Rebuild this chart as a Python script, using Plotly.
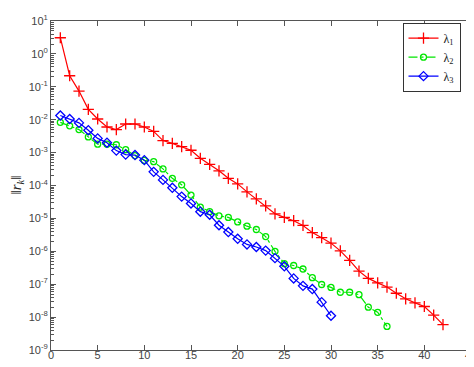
import plotly.graph_objects as go

iters_1 = list(range(1, 43))
lambda1 = [3.1, 0.217, 0.074, 0.0207, 0.0105, 0.006, 0.005, 0.0074, 0.0074, 0.006,
           0.0044, 0.00232, 0.0019, 0.00152, 0.00118, 0.00067, 4.4e-4, 2.8e-4, 1.65e-4, 1.12e-4,
           6.4e-5, 3.9e-5, 2.4e-5, 1.38e-5, 1.07e-5, 8.5e-6, 6.1e-6, 3.7e-6, 2.6e-6, 1.77e-6,
           1.03e-6, 5.3e-7, 2.5e-7, 1.5e-7, 1.1e-7, 8.2e-8, 5.3e-8, 3.6e-8, 2.7e-8, 2.1e-8,
           1.15e-8, 5.9e-9]

iters_2 = list(range(1, 37))
lambda2 = [8.3e-3, 6.5e-3, 5.0e-3, 3.0e-3, 1.8e-3, 1.8e-3, 1.73e-3, 1.23e-3, 8.1e-4, 5.8e-4,
           5.3e-4, 3.2e-4, 1.65e-4, 1.05e-4, 5.1e-5, 2.2e-5, 1.6e-5, 1.2e-5, 1.07e-5, 7.8e-6,
           5.8e-6, 4.6e-6, 2.8e-6, 1.0e-6, 4.2e-7, 3.7e-7, 2.9e-7, 1.58e-7, 9.8e-8, 8.0e-8,
           5.7e-8, 5.7e-8, 4.8e-8, 2.0e-8, 1.4e-8, 5.2e-9]

iters_3 = list(range(1, 31))
lambda3 = [0.0134, 0.0105, 8.0e-3, 4.8e-3, 2.7e-3, 2.0e-3, 1.15e-3, 8.7e-4, 8.4e-4, 5.9e-4,
           2.6e-4, 1.48e-4, 8.5e-5, 4.6e-5, 2.85e-5, 1.6e-5, 1.29e-5, 6.2e-6, 3.85e-6, 2.4e-6,
           1.62e-6, 1.35e-6, 1.05e-6, 6.2e-7, 3.5e-7, 1.5e-7, 8.9e-8, 7.1e-8, 2.85e-8, 1.1e-8]

names = ["λ<sub>1</sub>", "λ<sub>2</sub>", "λ<sub>3</sub>"]
x_ticks = [0, 5, 10, 15, 20, 25, 30, 35, 40, 45]
y_exponents = [1, 0, -1, -2, -3, -4, -5, -6, -7, -8, -9]
y_ticks = [10.0 ** e for e in y_exponents]
y_ticktext = ["10<sup>%d</sup>" % e for e in y_exponents]

fig = go.Figure()
fig.add_trace(go.Scatter(x=iters_1, y=lambda1, name=names[0], mode="lines+markers",
                         line=dict(color="#ff0000", width=1.2),
                         marker=dict(symbol="cross-thin-open", size=8,
                                     line=dict(color="#ff0000", width=1.3))))
fig.add_trace(go.Scatter(x=iters_2, y=lambda2, name=names[1], mode="lines+markers",
                         line=dict(color="#00e600", width=1.2, dash="dashdot"),
                         marker=dict(symbol="circle-open", size=6,
                                     line=dict(color="#00e600", width=1.3))))
fig.add_trace(go.Scatter(x=iters_3, y=lambda3, name=names[2], mode="lines+markers",
                         line=dict(color="#0000ff", width=1.2),
                         marker=dict(symbol="diamond-open", size=7,
                                     line=dict(color="#0000ff", width=1.3))))

axis_common = dict(showline=True, linecolor="#555555", linewidth=1, mirror="ticks",
                   ticks="inside", tickcolor="#555555", showgrid=False, zeroline=False,
                   ticklabeloverflow="allow",
                   tickfont=dict(family="Liberation Sans, Arial", size=11, color="#444444"))

fig.update_xaxes(range=[0, 45], tickvals=x_ticks, ticklen=5, ticklabelstandoff=-5,
                 **axis_common)
fig.update_yaxes(type="log", range=[-9, 1], tickvals=y_ticks, ticktext=y_ticktext, ticklen=5,
                 minor=dict(ticks="inside", ticklen=3, tickcolor="#555555", showgrid=False,
                            dtick="D1"),
                 **axis_common)

fig.update_layout(
    width=474, height=367,
    margin=dict(l=43, r=5, t=5, b=25),
    paper_bgcolor="white", plot_bgcolor="white",
    showlegend=True,
    legend=dict(x=0.975, y=0.995, xanchor="right", yanchor="top",
                bgcolor="white", bordercolor="#333333", borderwidth=1,
                font=dict(family="Liberation Serif, Times New Roman", size=12, color="#222222"),
                tracegroupgap=0, itemwidth=30),
    annotations=[
        dict(text="Number of Iterations", xref="paper", yref="paper", x=0.5, y=0,
             yshift=-27, xanchor="center", yanchor="middle", showarrow=False,
             font=dict(family="Liberation Sans, Arial", size=15, color="#222222")),
        dict(text="‖<i>r</i><sub><i>k</i></sub>‖", xref="paper", yref="paper", x=0, y=0.5,
             xshift=-35, textangle=-90, xanchor="center", yanchor="middle", showarrow=False,
             font=dict(family="Liberation Serif, Times New Roman", size=15, color="#222222")),
    ],
)

fig.write_html("out.html")
